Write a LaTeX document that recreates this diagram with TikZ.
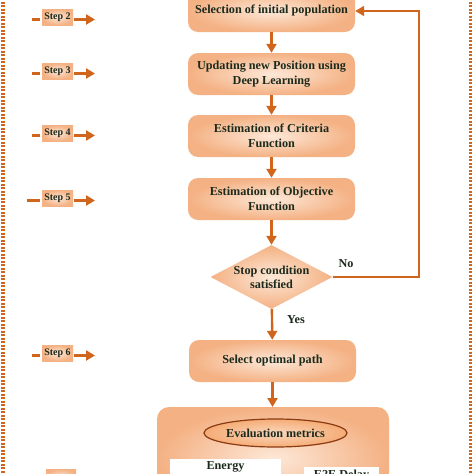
\documentclass[tikz,border=0pt]{standalone}
\usepackage{fontspec}
\setmainfont{Liberation Serif}
\usetikzlibrary{arrows.meta,shapes.geometric}
\definecolor{arr}{HTML}{D0651E}
\definecolor{peach}{HTML}{F4B183}
\definecolor{peachlight}{HTML}{FDE8D8}
\definecolor{txt}{HTML}{1C2A1C}
\definecolor{ellb}{HTML}{8B3A12}
\begin{document}
\begin{tikzpicture}[x=1pt,y=-1pt,
  procbox/.style={rounded corners=10pt, inner color=peachlight, outer color=peach,
    minimum width=167pt, minimum height=42pt, align=center, inner sep=0pt,
    font=\bfseries\fontsize{12.2}{14.5}\selectfont, text=txt},
  decbox/.style={shape=diamond, inner sep=0pt, inner color=peachlight, outer color=peach,
    minimum width=122pt, minimum height=64pt},
  dectext/.style={align=center, font=\bfseries\fontsize{12.2}{14}\selectfont, text=txt},
  stepbox/.style={rectangle, inner color=peachlight, outer color=peach, inner sep=0pt,
    minimum width=31pt, minimum height=16pt, font=\bfseries\fontsize{10}{11}\selectfont, text=txt},
  flow/.style={draw=arr, line width=2.4pt, -{Triangle[length=9pt,width=10pt]}},
  back/.style={draw=arr, line width=2pt, -{Triangle[length=9pt,width=10pt]}},
  dashln/.style={draw=arr, line width=2.4pt},
  lbl/.style={font=\bfseries\fontsize{12.2}{13}\selectfont, text=txt},
  border/.style={draw=arr, line width=3.2pt, dash pattern=on 2.2pt off 1.3pt},
  whitebox/.style={fill=white, inner sep=0pt}
]
\useasboundingbox (0,0) rectangle (474,474);
\clip (0,0) rectangle (474,474);

% dotted side borders
\draw[border] (3,-2) -- (3,476);
\draw[border] (470.5,-2) -- (470.5,476);

% main flow
\node[procbox] (b1) at (271.5,11) {Selection of initial population};
\node[procbox] (b2) at (271.5,74) {Updating new Position using\\Deep Learning};
\node[procbox] (b3) at (271.5,136) {Estimation of Criteria\\Function};
\node[procbox] (b4) at (271.5,199) {Estimation of Objective\\Function};
\node[decbox] (d1) at (271.5,277) {};
\node[dectext] (d1t) at (d1) {Stop condition\\satisfied};
\node[procbox] (b5) at (272.5,361) {Select optimal path};

% evaluation box
\path[rounded corners=12pt, inner color=peachlight, outer color=peach]
  (157,407) rectangle (389,510);
\coordinate (evtop) at (272.5,407);
\node[ellipse, draw=ellb, line width=1.2pt, inner color=peachlight!70!peach, outer color=peach!90!orange,
  minimum width=143pt, minimum height=28pt, inner sep=0pt,
  font=\bfseries\fontsize{12.2}{13}\selectfont, text=txt] (ev) at (275.5,433) {Evaluation metrics};
\path[whitebox] (170,459) rectangle (281,500);
\node[lbl, anchor=center] (en) at (225.5,467) {Energy};
\path[whitebox] (304,467) rectangle (379,500);
\node[lbl, anchor=center] (ed) at (341.5,476) {E2E Delay};

% flow arrows
\draw[flow] (b1) -- (b2);
\draw[flow] (b2) -- (b3);
\draw[flow] (b3) -- (b4);
\draw[flow] (b4) -- (d1);
\draw[flow] (d1) -- (b5);
\draw[flow] (b5) -- (evtop);
\draw[back] (d1.east) -- (419,277) -- (419,11) -- (b1.east);
\node[lbl] (no) at (346,264) {No};
\node[lbl] (yes) at (296,320) {Yes};

% steps
\foreach \n/\y/\s in {2/17/32,3/71/32,4/133/32,5/198/27,6/353/32}{
  \node[stepbox] (s\n) at (57.5,\y) {Step \n};
  \coordinate (sl\n) at (\s,\y+2.5);
  \coordinate (sla\n) at (40,\y+2.5);
  \coordinate (sra\n) at (74,\y+2.5);
  \coordinate (sr\n) at (95,\y+2.5);
  \draw[dashln] (sl\n) -- (sla\n);
  \draw[flow] (sra\n) -- (sr\n);
}
\node[stepbox, minimum width=30pt] (s7) at (61,477) {};
\end{tikzpicture}
\end{document}
